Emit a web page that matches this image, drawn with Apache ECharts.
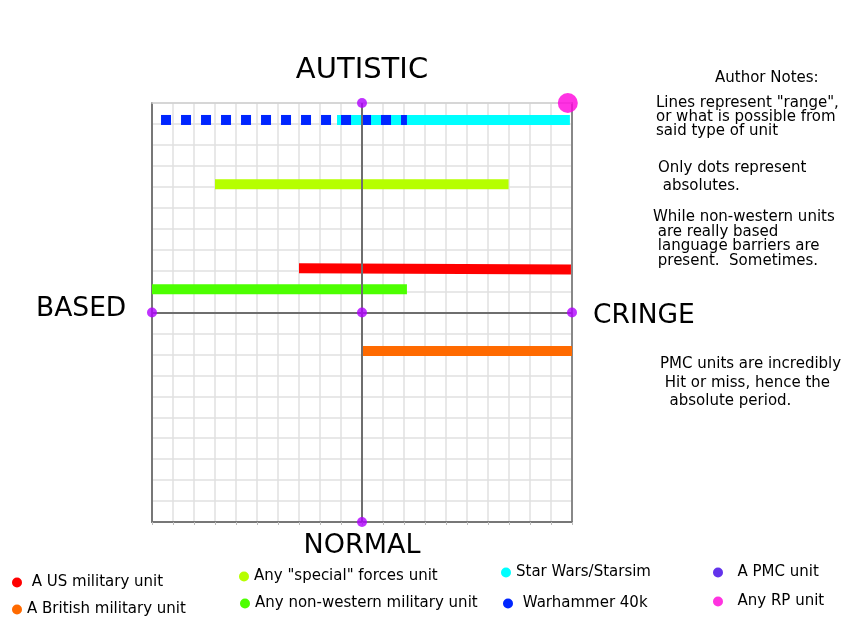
<!DOCTYPE html>
<html>
<head>
<meta charset="utf-8">
<script src="https://cdn.jsdelivr.net/npm/echarts@6/dist/echarts.min.js"></script>
<style>
  html, body { margin: 0; padding: 0; background: #fff; }
  #chart { width: 846px; height: 618px; }
</style>
</head>
<body>
<div id="chart"></div>
<script>
// axis range of the compass (both axes run -10..10)
const axisMin = -10;
const axisMax = 10;

// range lines: [xStart, yStart], [xEnd, yEnd]
const usUnit = [[-3.0, 2.11], [9.95, 2.05]];
const britishUnit = [[0, -1.84], [10, -1.84]];
const specialForces = [[-7.0, 6.12], [6.98, 6.12]];
const nonWestern = [[-10, 1.11], [2.14, 1.11]];
const starWars = [[-1.19, 9.19], [9.9, 9.19]];
const warhammer = [[-9.57, 9.19], [2.14, 9.19]];

// absolute dots
const pmcUnit = [[-10, 0], [0, 0], [10, 0], [0, 10], [0, -10]];
const rpUnit = [[9.8, 10]];

const FONT = "'Comic Sans MS', 'DejaVu Sans', sans-serif";

const chart = echarts.init(document.getElementById('chart'));

function rangeLine(name, data, color, dashed) {
  return {
    name: name,
    type: 'line',
    data: data,
    symbol: 'none',
    silent: true,
    itemStyle: { color: color },
    lineStyle: { color: color, width: 10, cap: 'butt', type: dashed ? [10, 10] : 'solid' }
  };
}

function legendAt(name, left, top, pad, iconColor) {
  const item = { name: name, icon: 'circle' };
  if (iconColor) item.itemStyle = { color: iconColor };
  return {
    data: [item],
    left: left,
    top: top,
    padding: 0,
    itemWidth: 10,
    itemHeight: 10,
    selectedMode: false,
    formatter: (pad || '') + '{name}',
    itemStyle: { borderWidth: 0 },
    lineStyle: { width: 0 },
    textStyle: { fontFamily: FONT, fontSize: 15, color: '#000' }
  };
}

function bigLabel(text, left, top, size, align) {
  return {
    text: text, left: left, top: top, padding: 0, textAlign: align || 'left',
    textStyle: { fontFamily: FONT, fontSize: size, fontWeight: 'normal', color: '#000' }
  };
}

function note(text, left, top, lineHeight) {
  return {
    text: text, left: left, top: top, padding: 0,
    textStyle: { fontFamily: FONT, fontSize: 15, fontWeight: 'normal', color: '#000', lineHeight: lineHeight }
  };
}

const option = {
  backgroundColor: '#fff',
  animation: false,
  title: [
    bigLabel('AUTISTIC', 362, 56, 29, 'center'),
    bigLabel('NORMAL', 362, 532, 27, 'center'),
    bigLabel('BASED', 36, 296, 26.5),
    bigLabel('CRINGE', 593, 303, 26.5),
    note('Author Notes:', 715, 70, 16),
    note('Lines represent "range",\nor what is possible from\nsaid type of unit', 656, 96, 14),
    note('Only dots represent\n absolutes.', 658, 159, 18),
    note('While non-western units\n are really based\n language barriers are\n present.  Sometimes.', 653, 210, 14.5),
    note('PMC units are incredibly\n Hit or miss, hence the\n  absolute period.', 660, 355, 18.5)
  ],
  legend: [
    legendAt('A US military unit', 12, 575, ' '),
    legendAt('A British military unit', 12, 602),
    legendAt('Any "special" forces unit', 239, 569),
    legendAt('Any non-western military unit', 240, 596),
    legendAt('Star Wars/Starsim', 501, 565),
    legendAt('Warhammer 40k', 503, 596, ' '),
    legendAt('A PMC unit', 713, 565, '  ', '#3c00e6'),
    legendAt('Any RP unit', 713, 594, '  ', '#ff00d8')
  ],
  grid: { left: 152, top: 103, width: 420, height: 419 },
  xAxis: [
    {
      type: 'value', min: axisMin, max: axisMax, interval: 1, position: 'bottom',
      axisLine: { onZero: false, lineStyle: { color: '#777', width: 2 } },
      axisTick: { show: true, length: 3, lineStyle: { color: '#bbb' } },
      axisLabel: { show: false },
      splitLine: { show: true, lineStyle: { color: '#e0e0e0', width: 1.5 } }
    },
    {
      type: 'value', min: axisMin, max: axisMax, interval: 1, position: 'top',
      axisLine: { onZero: false, lineStyle: { color: '#cfcfcf', width: 1.5 } },
      axisTick: { show: false }, axisLabel: { show: false }, splitLine: { show: false }
    }
  ],
  yAxis: [
    {
      type: 'value', min: axisMin, max: axisMax, interval: 1, position: 'left',
      axisLine: { onZero: false, lineStyle: { color: '#777', width: 2 } },
      axisTick: { show: false }, axisLabel: { show: false },
      splitLine: { show: true, lineStyle: { color: '#e0e0e0', width: 1.5 } }
    },
    {
      type: 'value', min: axisMin, max: axisMax, interval: 1, position: 'right',
      axisLine: { onZero: false, lineStyle: { color: '#888', width: 2 } },
      axisTick: { show: false }, axisLabel: { show: false }, splitLine: { show: false }
    }
  ],
  series: [
    {
      name: 'axes', type: 'line', data: [], silent: true,
      markLine: {
        silent: true, symbol: 'none', label: { show: false },
        lineStyle: { color: '#6e6e6e', width: 2, type: 'solid' },
        data: [{ xAxis: 0 }, { yAxis: 0 }]
      }
    },
    rangeLine('Star Wars/Starsim', starWars, '#00ffff'),
    rangeLine('Warhammer 40k', warhammer, '#0026ff', true),
    rangeLine('Any "special" forces unit', specialForces, '#b6ff00'),
    rangeLine('A US military unit', usUnit, '#ff0000'),
    rangeLine('Any non-western military unit', nonWestern, '#4cff00'),
    rangeLine('A British military unit', britishUnit, '#ff6a00'),
    {
      name: 'A PMC unit', type: 'scatter', data: pmcUnit, symbolSize: 10, silent: true,
      itemStyle: { color: '#b000ff' }, z: 5
    },
    {
      name: 'Any RP unit', type: 'scatter', data: rpUnit, symbolSize: 20, silent: true,
      itemStyle: { color: '#ff00dc' }, z: 5
    }
  ]
};

chart.setOption(option);
</script>
</body>
</html>
